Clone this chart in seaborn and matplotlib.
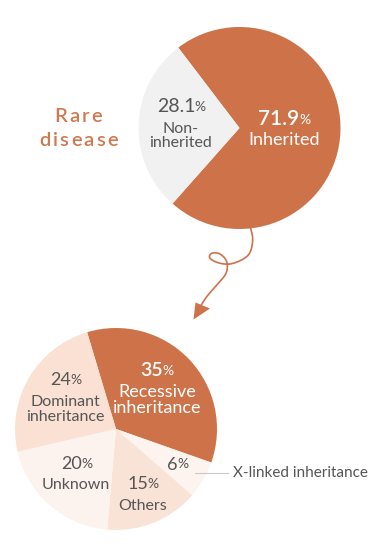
import numpy as np
import seaborn as sns
import matplotlib.pyplot as plt
from matplotlib.patches import Polygon

sns.set_theme(style="white")
plt.rcParams['font.family'] = ['Lato', 'DejaVu Sans']

# data
top_labels = ["Inherited", "Non-\ninherited"]
top_values = [71.9, 28.1]
top_colors = ["#CE7349", "#F1F1F1"]

bottom_labels = ["Recessive\ninheritance", "X-linked inheritance", "Others", "Unknown", "Dominant\ninheritance"]
bottom_values = [35, 6, 15, 20, 24]
bottom_colors = ["#CE7349", "#FDF4F0", "#F9E2D6", "#FCF2EE", "#FAE1D4"]

ORANGE = "#CE7349"
GRAY = "#555555"

fig = plt.figure(figsize=(3.76, 5.6), dpi=100)
fig.patch.set_facecolor("white")


def pie_axes(cx, cy, r):
    # cx, cy, r in pixels (y from top)
    return fig.add_axes([(cx - r) / 376, (560 - cy - r) / 560, 2 * r / 376, 2 * r / 560])


def put_label(ax, w, val, label, rad, txtcol, big, inside=True):
    ang = np.deg2rad((w.theta1 + w.theta2) / 2)
    x, y = rad * np.cos(ang), rad * np.sin(ang)
    nlines = label.count("\n") + 1
    white = txtcol == "white"
    up = 0.19 if nlines == 2 else 0.11
    if not inside:
        up = 0
    down = -0.10
    num = f"{val:g}"
    t = ax.text(x - 0.05, y + up, num, ha="center", va="center", color=txtcol,
                fontsize=big + (1 if white else 0), fontweight="semibold" if white else "normal")
    ax.annotate("%", xy=(1, 0), xycoords=t, xytext=(-0.3, 1.5), textcoords="offset points",
                ha="left", va="bottom", color=txtcol, fontsize=10)
    if inside:
        ax.text(x, y + down, label, ha="center", va="center", color=txtcol,
                fontsize=13 if white else 11.5, linespacing=1.05)


# top pie
ax1 = pie_axes(239.5, 128, 101)
w1, _ = ax1.pie(top_values, colors=top_colors, startangle=127.3, counterclock=False,
                wedgeprops=dict(linewidth=0))
ax1.set_xlim(-1, 1)
ax1.set_ylim(-1, 1)
put_label(ax1, w1[0], top_values[0], top_labels[0], 0.44, "white", 14)
put_label(ax1, w1[1], top_values[1], top_labels[1], 0.58, GRAY, 14)

# bottom pie
ax2 = pie_axes(116, 429, 101)
w2, _ = ax2.pie(bottom_values, colors=bottom_colors, startangle=106.6, counterclock=False,
                wedgeprops=dict(linewidth=0))
ax2.set_xlim(-1, 1)
ax2.set_ylim(-1, 1)
rads = [0.56, 0.70, 0.71, 0.60, 0.58]
for w, v, lab, r, c in zip(w2, bottom_values, bottom_labels, rads, bottom_colors):
    col = "white" if c == ORANGE else GRAY
    put_label(ax2, w, v, lab, r, col, 13, inside=(lab != "X-linked inheritance"))

# overlay in pixel coords
ov = fig.add_axes([0, 0, 1, 1])
ov.set_xlim(0, 376)
ov.set_ylim(560, 0)
ov.axis("off")
ov.patch.set_alpha(0)

# leader line + outside label
ov.plot([195, 228], [473, 473], color="#C9C9C9", lw=0.8)
ov.text(233, 473, bottom_labels[1], ha="left", va="center", color=GRAY, fontsize=11)

# curly arrow
pts = np.array([(250, 226), (252.7, 240), (248.3, 255), (233.3, 263.3), (220, 263.3),
                (210, 258.3), (211.7, 253.3), (220, 254), (226.7, 261.7), (226, 273.3),
                (216.7, 285), (206.7, 296.7), (200, 307)])


def catmull(p, n=20):
    p = np.vstack([p[0], p, p[-1]])
    out = []
    for i in range(1, len(p) - 2):
        p0, p1, p2, p3 = p[i - 1], p[i], p[i + 1], p[i + 2]
        for t in np.linspace(0, 1, n, endpoint=False):
            out.append(0.5 * ((2 * p1) + (-p0 + p2) * t + (2 * p0 - 5 * p1 + 4 * p2 - p3) * t ** 2
                              + (-p0 + 3 * p1 - 3 * p2 + p3) * t ** 3))
    out.append(p[-2])
    return np.array(out)


curve = catmull(pts)
ov.plot(curve[:, 0], curve[:, 1], color=ORANGE, lw=1.2, solid_capstyle="round")
ov.add_patch(Polygon([(195.5, 302.5), (210, 308.5), (193.5, 319.5)], closed=True,
                     color=ORANGE, lw=0))

# "Rare disease" with letter spacing
fig.canvas.draw()
rend = fig.canvas.get_renderer()


def spaced(x, y, s, gap):
    widths = []
    arts = []
    for ch in s:
        t = ov.text(0, y, ch, ha="left", va="center", color="#D0784F", fontsize=14.5,
                    fontweight="semibold")
        bb = t.get_window_extent(rend)
        widths.append(bb.width)
        arts.append(t)
    total = sum(widths) + gap * (len(s) - 1)
    cur = x - total / 2
    for t, wd in zip(arts, widths):
        t.set_x(cur)
        cur += wd + gap


spaced(78.5, 116, "Rare", 2.2)
spaced(78.5, 140, "disease", 2.2)

fig.savefig("out.png", dpi=100, facecolor="white")
